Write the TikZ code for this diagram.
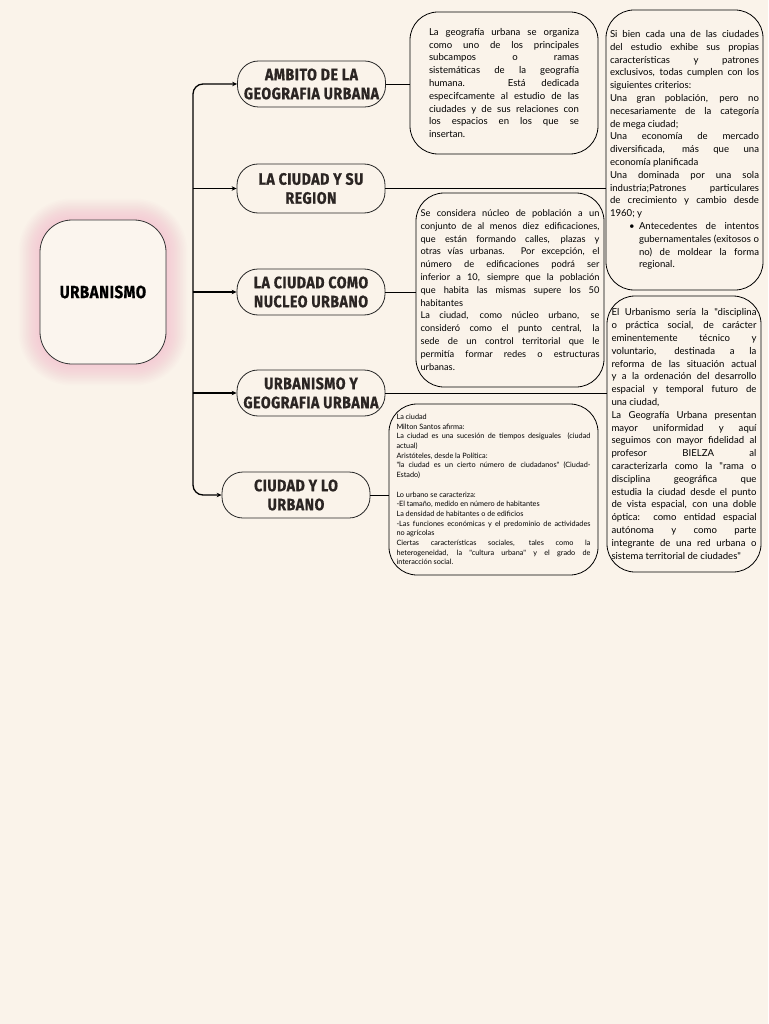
\documentclass[tikz,border=0pt]{standalone}
\usepackage{fontspec}
\setmainfont{Lato}
\newfontfamily\bodyfont{Lato}
\newfontfamily\headfont[BoldFeatures={FakeBold=0.8}, FakeStretch=0.86, LetterSpace=3]{Fira Sans}
\usetikzlibrary{arrows.meta,calc}
\definecolor{bg}{RGB}{250,243,234}
\definecolor{boxfill}{RGB}{251,245,238}
\definecolor{glowpink}{RGB}{244,160,192}
\definecolor{headtext}{RGB}{43,37,35}
\setlength{\parindent}{0pt}
\newcommand\jsp{\spaceskip=0.25em plus 4em minus 0.1em\relax\tolerance=10000\hyphenpenalty=10000\exhyphenpenalty=10000\relax}
\pgfdeclarelayer{background}
\pgfsetlayers{background,main}
\begin{document}
\begin{tikzpicture}[x=1pt,y=-1pt,
  textbox/.style={draw=black, line width=0.8pt, fill=bg, rounded corners=28pt, inner sep=0pt, align=justify, text=black},
  cat/.style={draw=black!85, line width=0.8pt, fill=bg, rounded corners=21pt, inner sep=0pt, minimum width=148pt, minimum height=46pt, align=center, text=headtext, font={\headfont\bfseries\fontsize{16.5}{19}\selectfont}},
  branch/.style={line width=1.3pt, -{Stealth[length=5pt,width=4.5pt]}},
  branchboth/.style={line width=1.3pt, rounded corners=10pt, {Stealth[length=5pt,width=4.5pt]}-{Stealth[length=5pt,width=4.5pt]}},
  link/.style={line width=0.9pt},
  smalltext/.style={font={\bodyfont\fontsize{9.6}{12.8}\selectfont\jsp}},
  tinytext/.style={font={\bodyfont\fontsize{7.3}{9.7}\selectfont\jsp}}
]
\useasboundingbox (0,0) rectangle (768,1024);

% central node
\node[draw=black!80, line width=0.8pt, fill=boxfill, rounded corners=32pt, minimum width=126pt, minimum height=144pt, inner sep=0pt, text=black, font={\headfont\bfseries\fontsize{17.5}{20}\selectfont}] (urb) at (103,292) {URBANISMO};

\begin{pgfonlayer}{background}
  \fill[bg] (0,0) rectangle (768,1024);
  \foreach \i in {1.5,3,...,21} {
    \fill[glowpink, opacity=0.035, rounded corners=32pt+\i pt] ($(urb.north west)+(-\i,-\i)$) rectangle ($(urb.south east)+(\i,\i)$);
  }
\end{pgfonlayer}

% category nodes
\node[cat] (amb) at (311.5,84) {AMBITO DE LA\\GEOGRAFIA URBANA};
\node[cat, minimum height=49pt] (reg) at (311,188.5) {LA CIUDAD Y SU\\REGION};
\node[cat] (nuc) at (311,292) {LA CIUDAD COMO\\NUCLEO URBANO};
\node[cat] (ugu) at (311,393) {URBANISMO Y\\GEOGRAFIA URBANA};
\node[cat] (clu) at (296,495) {CIUDAD Y LO\\URBANO};

% text boxes
\node[textbox, smalltext, minimum width=188pt, minimum height=142pt, text width=150pt] (b1) at (504,83) {La geografía urbana se organiza\linebreak como uno de los principales\linebreak subcampos o ramas\linebreak sistemáticas de la geografía\linebreak humana. Está dedicada\linebreak especifcamente al estudio de las\linebreak ciudades y de sus relaciones con\linebreak los espacios en los que se\linebreak insertan.};

\node[textbox, smalltext, minimum width=157pt, minimum height=280pt, text width=149pt] (b2) at (684.5,150) {Si bien cada una de las ciudades\linebreak del estudio exhibe sus propias\linebreak características y patrones\linebreak exclusivos, todas cumplen con los\linebreak siguientes criterios:\par
Una gran población, pero no\linebreak necesariamente de la categoría\linebreak de mega ciudad;\par
Una economía de mercado\linebreak diversificada, más que una\linebreak economía planificada\par
Una dominada por una sola\linebreak industria;Patrones particulares\linebreak de crecimiento y cambio desde\linebreak 1960; y\par
\hspace*{19pt}\makebox[10pt][l]{•}\begin{minipage}[t]{120pt}\jsp Antecedentes de intentos\linebreak gubernamentales (exitosos o\linebreak no) de moldear la forma\linebreak regional.\end{minipage}};

\node[textbox, font={\bodyfont\fontsize{9.3}{12.8}\selectfont\jsp}, minimum width=188pt, minimum height=194pt, text width=179pt] (b3) at (510,290) {Se considera núcleo de población a un\linebreak conjunto de al menos diez edificaciones,\linebreak que están formando calles, plazas y\linebreak otras vías urbanas. Por excepción, el\linebreak número de edificaciones podrá ser\linebreak inferior a 10, siempre que la población\linebreak que habita las mismas supere los 50\linebreak habitantes\par
La ciudad, como núcleo urbano, se\linebreak consideró como el punto central, la\linebreak sede de un control territorial que le\linebreak permitía formar redes o estructuras\linebreak urbanas.};

\node[textbox, smalltext, minimum width=154pt, minimum height=276pt, text width=145pt] (b4) at (684,434) {El Urbanismo sería la "disciplina\linebreak o práctica social, de carácter\linebreak eminentemente técnico y\linebreak voluntario, destinada a la\linebreak reforma de las situación actual\linebreak y a la ordenación del desarrollo\linebreak espacial y temporal futuro de\linebreak una ciudad,\par
La Geografía Urbana presentan\linebreak mayor uniformidad y aquí\linebreak seguimos con mayor fidelidad al\linebreak profesor BIELZA al\linebreak caracterizarla como la "rama o\linebreak disciplina geográfica que\linebreak estudia la ciudad desde el punto\linebreak de vista espacial, con una doble\linebreak óptica: como entidad espacial\linebreak autónoma y como parte\linebreak integrante de una red urbana o\linebreak sistema territorial de ciudades"};

\node[textbox, tinytext, minimum width=209pt, minimum height=171pt, text width=194pt] (b5) at (493.5,489.5) {La ciudad\par
Milton Santos afirma:\par
La ciudad es una sucesión de tiempos desiguales \ (ciudad\linebreak actual)\par
Aristóteles, desde la Política:\par
"la ciudad es un cierto número de ciudadanos" (Ciudad-\linebreak Estado)\par
\mbox{}\par
Lo urbano se caracteriza:\par
-El tamaño, medido en número de habitantes\par
La densidad de habitantes o de edificios\par
-Las funciones económicas y el predominio de actividades\linebreak no agrícolas\par
Ciertas características sociales, tales como la\linebreak heterogeneidad, la "cultura urbana" y el grado de\linebreak interacción social.};

% trunk and branches
\coordinate (trunk) at (193,0);
\draw[branchboth] (clu.west) -- (trunk |- clu.west) -- (trunk |- amb.west) -- (amb.west);
\draw[branch] (trunk |- reg.west) -- (reg.west);
\draw[branch] (trunk |- nuc.west) -- (nuc.west);
\draw[branch] (trunk |- ugu.west) -- (ugu.west);

% links to text boxes
\draw[link] (amb.east) -- (amb.east -| b1.west);
\draw[link] (reg.east) -- (reg.east -| b2.west);
\draw[link] (nuc.east) -- (nuc.east -| b3.west);
\draw[link] (ugu.east) -- (ugu.east -| b4.west);
\draw[link] (clu.east) -- (clu.east -| b5.west);
\end{tikzpicture}
\end{document}
